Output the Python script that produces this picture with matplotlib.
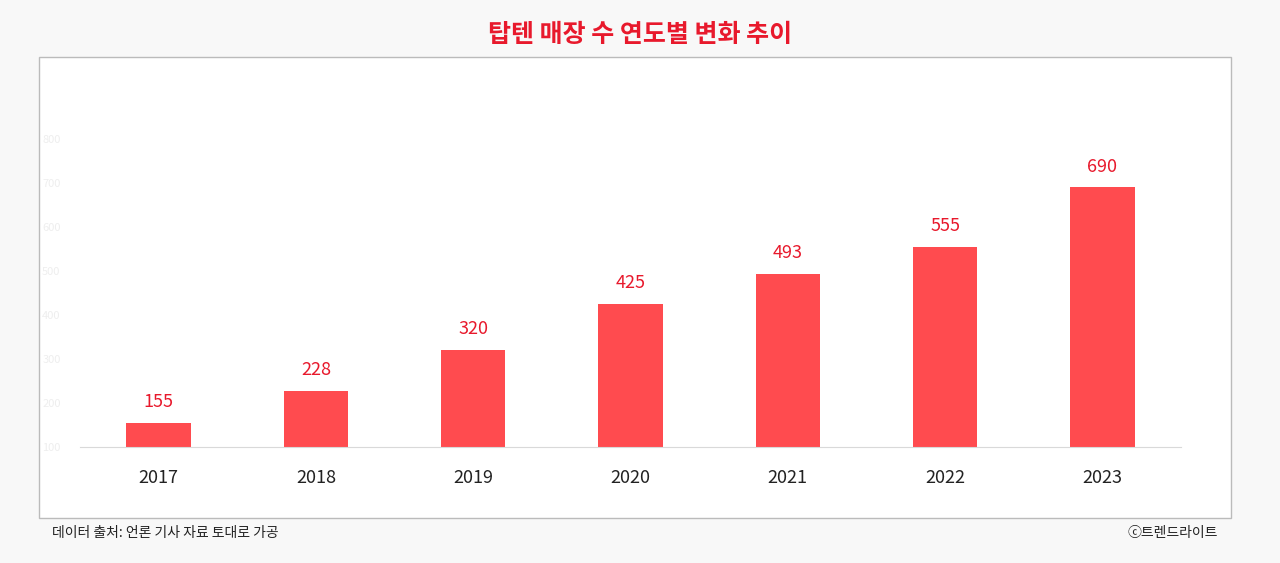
import matplotlib.pyplot as plt
from matplotlib.patches import Rectangle

plt.rcParams["font.family"] = ["Noto Sans CJK KR", "Noto Sans CJK JP", "Noto Sans CJK SC", "DejaVu Sans"]

years = ["2017", "2018", "2019", "2020", "2021", "2022", "2023"]
stores = [155, 228, 320, 425, 493, 555, 690]
yticks = [100, 200, 300, 400, 500, 600, 700, 800]

RED = "#ff4b4f"
TEXT_RED = "#e8192c"

W, H = 1280, 563
fig = plt.figure(figsize=(W / 100, H / 100), dpi=100, facecolor="#f8f8f8")

# white panel with grey border
fig.patches.append(Rectangle((39 / W, 1 - 518 / H), (1231 - 39) / W, (518 - 57) / H,
                             transform=fig.transFigure, facecolor="white",
                             edgecolor="#bbbbbb", linewidth=1, zorder=-1))

ax = fig.add_axes([80 / W, 1 - 447 / H, (1181 - 80) / W, (447 - 95) / H])
ax.set_zorder(2)
ax.set_facecolor("none")
x = range(len(years))
ax.bar(x, [v - 100 for v in stores], bottom=100, width=0.41, color=RED)
for i, v in enumerate(stores):
    ax.text(i, v + 27, str(v), ha="center", va="bottom", fontsize=13, color=TEXT_RED)

ax.set_xlim(-0.5, 6.5)
ax.set_ylim(100, 900)
ax.set_xticks(list(x))
ax.set_xticklabels(years, fontsize=13, color="#222222")
ax.set_yticks(yticks)
ax.set_yticklabels([str(t) for t in yticks], fontsize=8, color="#eeeeee")
ax.tick_params(length=0)
ax.tick_params(axis="x", pad=16)
ax.tick_params(axis="y", pad=14)
for s in ["top", "right", "left"]:
    ax.spines[s].set_visible(False)
ax.spines["bottom"].set_color("#d9d9d9")

fig.text(0.5, 1 - 35 / H, "탑텐 매장 수 연도별 변화 추이", ha="center", va="center",
         fontsize=18, fontweight="bold", color=TEXT_RED)
fig.text(52 / W, 1 - 533 / H, "데이터 출처: 언론 기사 자료 토대로 가공", ha="left", va="center",
         fontsize=10, color="#222222")
fig.text(1218 / W, 1 - 533 / H, "ⓒ트렌드라이트", ha="right", va="center",
         fontsize=10, color="#222222")

fig.savefig("out.png", dpi=100, facecolor=fig.get_facecolor())
